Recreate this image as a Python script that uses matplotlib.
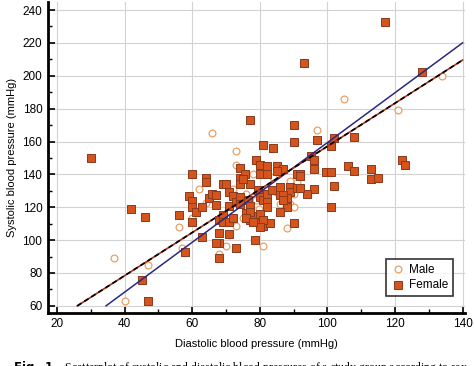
import matplotlib.pyplot as plt
import numpy as np
from matplotlib.ticker import MultipleLocator

# diastolic / systolic readings
female_dia = [30, 117, 93, 128, 77, 90, 90, 97, 102, 101, 108, 81, 84, 79, 80, 74, 82, 85, 87, 95,
              96, 96, 91, 92, 99.5, 101, 106, 108, 113, 113, 115, 122, 123, 102,
              60, 64, 69, 74, 75.5, 80, 82, 85, 74, 77, 75,
              42, 46, 45, 47, 56, 58, 59, 60, 60, 60, 61, 63, 63, 65, 66, 67, 67, 68, 69, 69, 68, 71,
              68, 73, 71, 71, 72, 71, 73, 72, 74, 74, 76.5, 77, 79.5, 80, 81, 82, 82, 83.5, 86, 86,
              89, 89, 91, 88, 88, 76, 77, 78, 79, 80, 81, 83, 86, 90, 92, 96, 94, 92, 101, 87, 87,
              82, 80, 81, 80, 77, 76, 78, 68, 67, 64, 78.5, 70]
female_sys = [150, 233, 208, 202, 173, 170, 160, 161, 162, 157, 163, 158, 156, 149, 146, 144, 145, 145, 143, 151,
              149, 143, 140, 140, 141.6, 141.6, 145, 142, 143, 137, 138, 149, 146, 133,
              140, 138, 134, 138, 140, 140, 140, 142, 134, 134, 137,
              119, 114, 76, 63, 115, 93, 127, 124, 120, 111, 117, 120, 102, 125.5, 128, 127.5, 121.5, 112, 115.5, 111, 98, 104,
              89, 95, 111, 129, 127, 121, 123, 113.5, 126, 122, 124.5, 121, 130.6, 126.5, 124.5, 128, 123.4, 130.6, 132.6, 127.6,
              132.6, 129.5, 131.6, 125.7, 120, 116.6, 112.3, 114.4, 111, 110.5, 108.6, 110.4, 117, 110.4, 139, 131, 128, 132, 120, 127.5, 124.5,
              120, 116, 112, 108, 117, 113.7, 111, 104.4, 98.3, 135.6, 100, 134]

male_dia = [134, 121, 105, 97, 66, 73, 73, 78, 37, 40, 47, 56, 57, 60, 62, 68, 71, 70, 73, 64,
            79, 84.7, 84, 90, 91, 89, 88, 81, 89, 85, 75, 79.7, 72, 76, 86, 90]
male_sys = [200, 179, 186, 167, 165, 154, 146, 140, 89, 63, 85, 108, 95, 113.5, 131, 91.6, 103, 96.5, 108.7, 122.6,
            124.5, 129.5, 138.5, 128, 135.6, 122, 107.5, 96.5, 136, 130.5, 113.7, 119, 131, 128, 122, 120]

# regression lines: (start diastolic, end diastolic, intercept, slope)
male_fit = (26, 140, 60 - 1.312 * 26, 1.312)
female_fit = (34.5, 140, 60 - 1.517 * 34.5, 1.517)

plt.rcParams['font.family'] = ['Liberation Sans', 'DejaVu Sans']

fig = plt.figure(figsize=(4.74, 3.66), dpi=100)
ax = fig.add_axes([0.101, 0.145, 0.880, 0.850])

ax.scatter(male_dia, male_sys, s=24, marker='o', facecolors='white', edgecolors='#e8a066',
           linewidths=0.9, label='Male', zorder=3)
ax.scatter(female_dia, female_sys, s=26, marker='s', facecolors='#d4541c', edgecolors='#8a3a1e',
           linewidths=0.7, label='Female', zorder=3)

x0, x1, b, m = female_fit
xs = np.array([x0, x1])
ax.plot(xs, b + m * xs, color='#2a2880', lw=1.1, zorder=4)

x0, x1, b, m = male_fit
xs = np.array([x0, x1])
ax.plot(xs, b + m * xs, color='#a8321a', lw=1.2, zorder=4)
ax.plot(xs, b + m * xs, color='black', lw=1.2, ls=(0, (3, 2)), zorder=4)

ax.set_xlim(17.3, 140.7)
ax.set_ylim(55.7, 245)
ax.xaxis.set_major_locator(MultipleLocator(20))
ax.xaxis.set_minor_locator(MultipleLocator(10))
ax.yaxis.set_major_locator(MultipleLocator(20))
ax.yaxis.set_minor_locator(MultipleLocator(10))
ax.tick_params(which='major', direction='in', length=5, width=1.2, labelsize=8.5, pad=4)
ax.tick_params(which='minor', direction='in', length=3, width=1)
ax.grid(True, which='major', color='#d2d2d2', lw=0.8)
ax.set_axisbelow(True)

for side in ['top', 'right']:
    ax.spines[side].set_visible(False)
for side in ['left', 'bottom']:
    ax.spines[side].set_linewidth(2)

ax.set_xlabel('Diastolic blood pressure (mmHg)', fontsize=8, labelpad=6)
ax.set_ylabel('Systolic blood pressure (mmHg)', fontsize=8, labelpad=4)

leg = ax.legend(loc='lower right', bbox_to_anchor=(0.971, 0.055), borderaxespad=0,
                fancybox=False, edgecolor='black', fontsize=8.5, handletextpad=0.3,
                borderpad=0.4, labelspacing=0.3, handlelength=1.2)
leg.get_frame().set_linewidth(1.2)

# caption, cut by the bottom edge as in the source scan
fig.text(0.027, -0.004, r'$\bf{Fig.\ 1.}$  Scatterplot of systolic and diastolic blood pressures of a study group according to sex',
         family='Liberation Serif', fontsize=8.5, va='center', ha='left')

fig.savefig('out.png', dpi=100)
